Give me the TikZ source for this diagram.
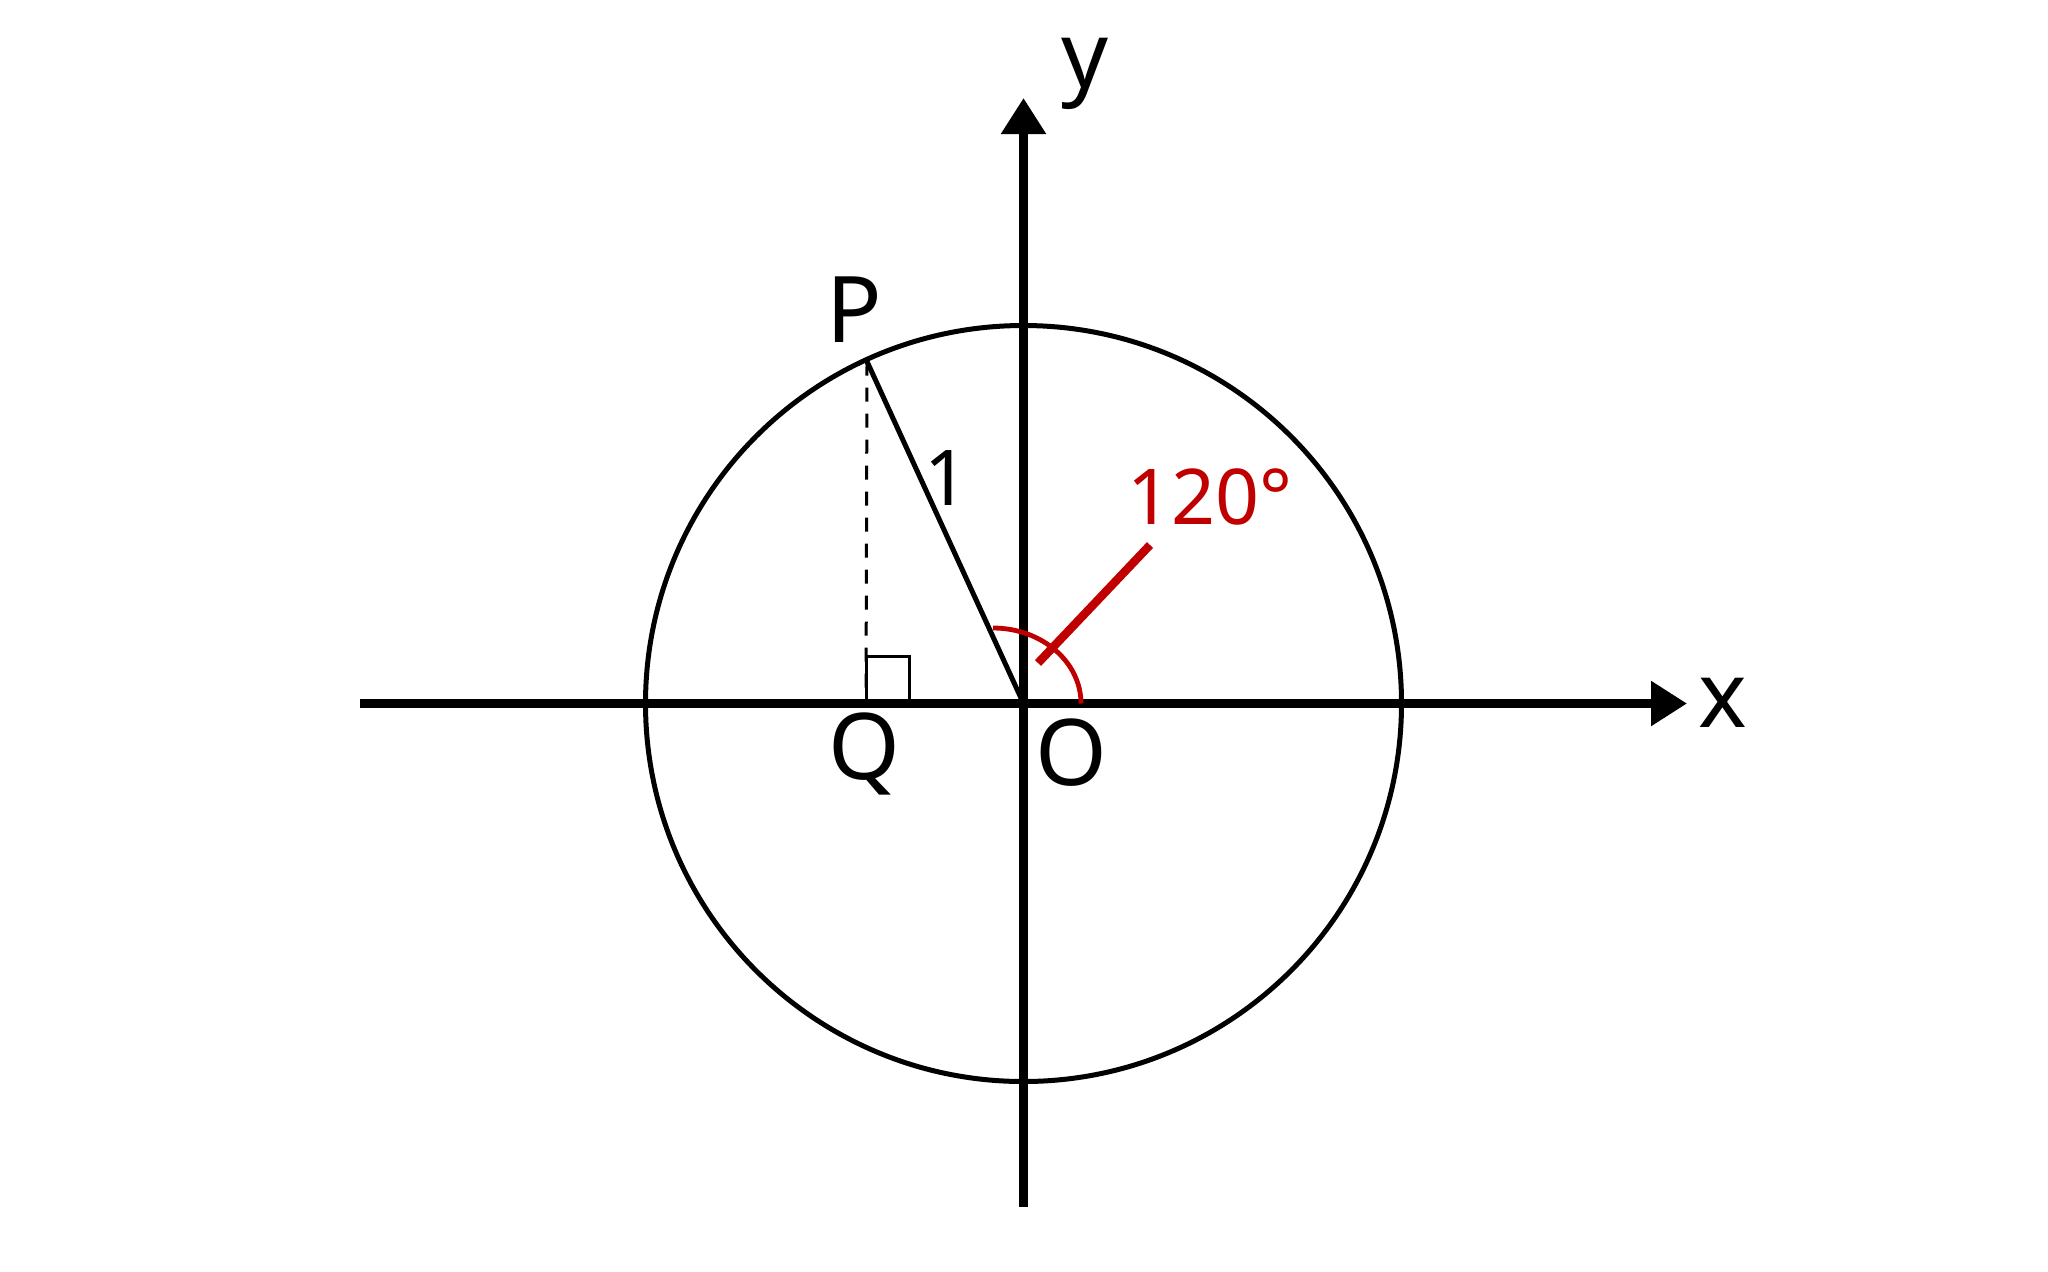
\documentclass[tikz,border=0pt]{standalone}
\usepackage{fontspec}
\setmainfont{Noto Sans}
\usetikzlibrary{arrows.meta}
\definecolor{angred}{RGB}{192,0,0}
\tikzset{
  axis/.style={line width=4.3pt, -{Triangle[length=18pt,width=21.5pt]}},
  thinline/.style={line width=2.5pt},
  lbl/.style={font=\fontsize{46}{50}\selectfont, inner sep=0pt},
  numlbl/.style={font=\fontsize{38.5}{42}\selectfont, inner sep=0pt},
}
\begin{document}
\begin{tikzpicture}[x=0.5pt,y=-0.5pt]
\useasboundingbox (0,0) rectangle (2048,1271);
\coordinate (O) at (1023.5,703.5);
\coordinate (P) at (867,361.5);
\coordinate (Q) at (866,703.5);
\coordinate (xs) at (360,703.5);
\coordinate (xe) at (1687,703.5);
\coordinate (ys) at (1023.5,1206.5);
\coordinate (ye) at (1023.5,98);
\coordinate (ra) at (1081,703.5);
\coordinate (rb) at (993,628);
\coordinate (ts) at (1038,663);
\coordinate (te) at (1150,545);
% circle
\draw[thinline] (O) circle[radius=189pt];
% axes
\draw[axis] (xs) -- (xe);
\draw[axis] (ys) -- (ye);
% dashed and right angle
\draw[line width=1.5pt, dash pattern=on 7pt off 6pt] (P) -- (Q);
\draw[line width=1.5pt] (866,703.5) -- (866,656.5) -- (909.5,656.5) -- (909.5,703.5);
% radius OP
\draw[thinline] (P) -- (O);
% angle arc
\draw[angred, line width=2.4pt] (ra) .. controls (1081,662) and (1042,628) .. (rb);
\draw[angred, line width=4.2pt] (ts) -- (te);
% labels
\node[lbl] (lP) at (854,310) {P};
\node[lbl] (lQ) at (864,754) {Q};
\node[lbl] (lO) at (1071,753) {O};
\node[lbl] (lx) at (1723,703) {x};
\node[lbl] (ly) at (1085,74) {y};
\node[numlbl] (l1) at (947,478) {1};
\node[numlbl, text=angred] (l120) at (1210,497) {120°};
\end{tikzpicture}
\end{document}
